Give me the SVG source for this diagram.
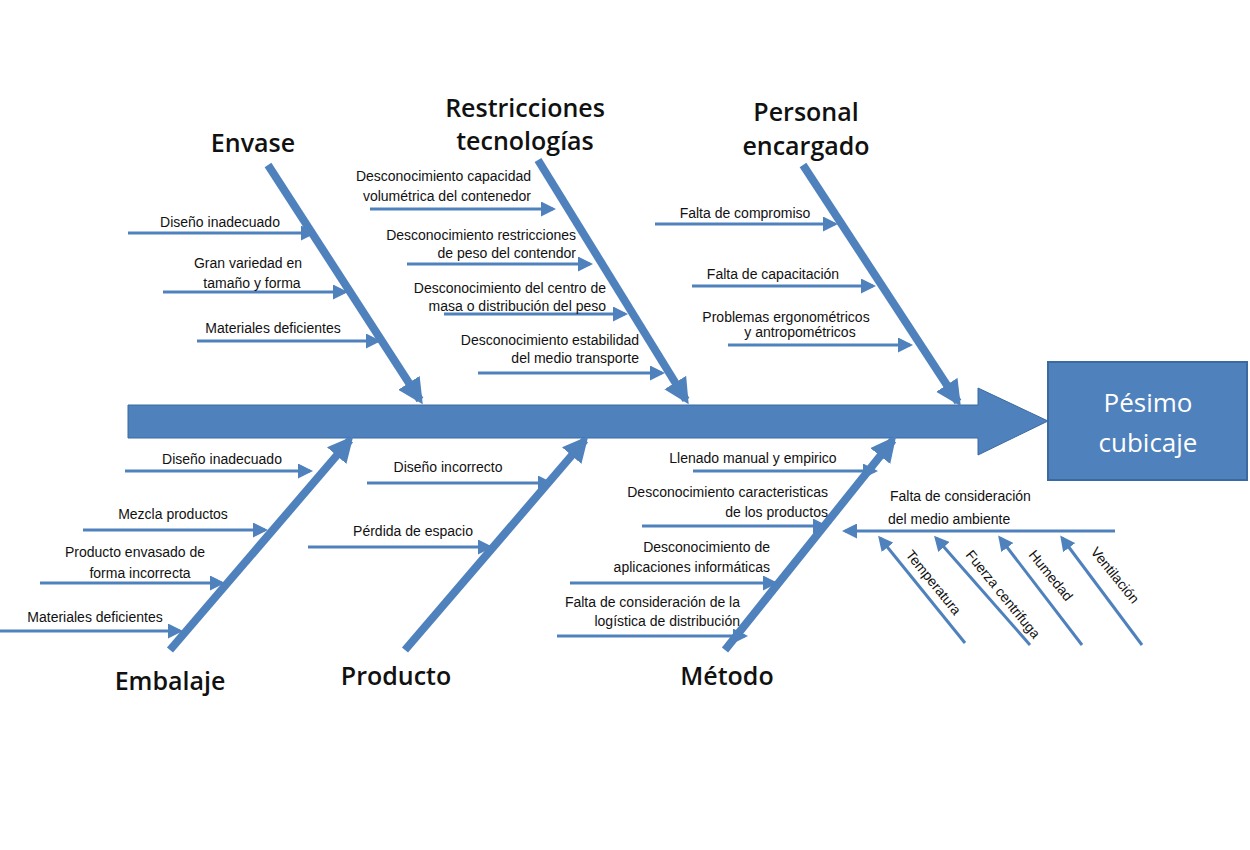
<svg xmlns="http://www.w3.org/2000/svg" width="1250" height="850" viewBox="0 0 1250 850">
<style>
.b{stroke:#4f81bd;stroke-width:8;fill:none}
.s{stroke:#4f81bd;stroke-width:3;fill:none}
.t{font-family:"Liberation Sans Narrow","Liberation Sans",Arial,sans-serif;font-size:14px;fill:#111}
.h{font-family:"Open Sans","Liberation Sans",sans-serif;font-size:25px;font-weight:600;fill:#111;text-anchor:middle}
</style>
<defs>
<marker id="mb" viewBox="0 0 10 10" refX="8" refY="5" markerWidth="3.2" markerHeight="3.2" orient="auto"><path d="M0,0L10,5L0,10z" fill="#4f81bd"/></marker>
<marker id="ms" viewBox="0 0 10 10" refX="8" refY="5" markerWidth="5" markerHeight="5" orient="auto"><path d="M0,0L10,5L0,10z" fill="#4f81bd"/></marker>
</defs>
<rect width="1250" height="850" fill="#fff"/>
<g id="spine"><path d="M128,405H978V388L1048,421L978,455V438H128Z" fill="#4f81bd" stroke="#3b6aa0" stroke-width="1"/></g>
<g id="effect"><rect x="1048" y="362" width="199" height="118" fill="#4f81bd" stroke="#3b6aa0" stroke-width="2"/>
<text x="1148" y="412" class="h" style="fill:#fff;font-weight:400;font-size:26px">Pésimo</text><text x="1148" y="452" class="h" style="fill:#fff;font-weight:400;font-size:26px">cubicaje</text></g>
<g id="connectors">
<line class="b" x1="268" y1="165" x2="420" y2="400" marker-end="url(#mb)"/>
<line class="b" x1="538" y1="160" x2="686" y2="400" marker-end="url(#mb)"/>
<line class="b" x1="803" y1="165" x2="958" y2="402" marker-end="url(#mb)"/>
<line class="b" x1="170" y1="650" x2="350" y2="440" marker-end="url(#mb)"/>
<line class="b" x1="405" y1="650" x2="585" y2="440" marker-end="url(#mb)"/>
<line class="b" x1="725" y1="650" x2="893" y2="440" marker-end="url(#mb)"/>
<line class="s" x1="128" y1="233" x2="313" y2="233" marker-end="url(#ms)"/>
<line class="s" x1="163" y1="292" x2="345" y2="292" marker-end="url(#ms)"/>
<line class="s" x1="197" y1="341" x2="378" y2="341" marker-end="url(#ms)"/>
<line class="s" x1="370" y1="209" x2="553" y2="209" marker-end="url(#ms)"/>
<line class="s" x1="407" y1="264" x2="590" y2="264" marker-end="url(#ms)"/>
<line class="s" x1="444" y1="314" x2="625" y2="314" marker-end="url(#ms)"/>
<line class="s" x1="478" y1="373" x2="662" y2="373" marker-end="url(#ms)"/>
<line class="s" x1="655" y1="224" x2="835" y2="224" marker-end="url(#ms)"/>
<line class="s" x1="692" y1="286" x2="873" y2="286" marker-end="url(#ms)"/>
<line class="s" x1="728" y1="345" x2="910" y2="345" marker-end="url(#ms)"/>
<line class="s" x1="125" y1="471" x2="310" y2="471" marker-end="url(#ms)"/>
<line class="s" x1="83" y1="530" x2="265" y2="530" marker-end="url(#ms)"/>
<line class="s" x1="40" y1="583" x2="222" y2="583" marker-end="url(#ms)"/>
<line class="s" x1="0" y1="631" x2="180" y2="631" marker-end="url(#ms)"/>
<line class="s" x1="367" y1="483" x2="550" y2="483" marker-end="url(#ms)"/>
<line class="s" x1="308" y1="547" x2="490" y2="547" marker-end="url(#ms)"/>
<line class="s" x1="693" y1="471" x2="875" y2="471" marker-end="url(#ms)"/>
<line class="s" x1="642" y1="526" x2="825" y2="526" marker-end="url(#ms)"/>
<line class="s" x1="570" y1="583" x2="775" y2="583" marker-end="url(#ms)"/>
<line class="s" x1="557" y1="636" x2="745" y2="636" marker-end="url(#ms)"/>
<line class="s" x1="1115" y1="531" x2="845" y2="531" marker-end="url(#ms)"/>
<line class="s" x1="965" y1="643" x2="880" y2="538" marker-end="url(#ms)"/>
<line class="s" x1="1030" y1="645" x2="936" y2="538" marker-end="url(#ms)"/>
<line class="s" x1="1082" y1="645" x2="1000" y2="538" marker-end="url(#ms)"/>
<line class="s" x1="1142" y1="645" x2="1062" y2="538" marker-end="url(#ms)"/>
</g>
<g id="envase"><text x="253" y="152" class="h">Envase</text>
<text class="t" x="220" y="227" text-anchor="middle">Diseño inadecuado</text>
<text class="t" x="248" y="268" text-anchor="middle">Gran variedad en</text><text class="t" x="252" y="288" text-anchor="middle">tamaño y forma</text>
<text class="t" x="273" y="333" text-anchor="middle">Materiales deficientes</text></g>
<g id="restricciones"><text x="525" y="117" class="h">Restricciones</text><text x="525" y="150" class="h">tecnologías</text>
<text class="t" x="531" y="181" text-anchor="end">Desconocimiento capacidad</text><text class="t" x="531" y="201" text-anchor="end">volumétrica del contenedor</text>
<text class="t" x="576" y="240" text-anchor="end">Desconocimiento restricciones</text><text class="t" x="576" y="258" text-anchor="end">de peso del contendor</text>
<text class="t" x="606" y="293" text-anchor="end">Desconocimiento del centro de</text><text class="t" x="606" y="311" text-anchor="end">masa o distribución del peso</text>
<text class="t" x="639" y="345" text-anchor="end">Desconocimiento estabilidad</text><text class="t" x="639" y="363" text-anchor="end">del medio transporte</text></g>
<g id="personal"><text x="806" y="121" class="h">Personal</text><text x="806" y="155" class="h">encargado</text>
<text class="t" x="745" y="218" text-anchor="middle">Falta de compromiso</text>
<text class="t" x="773" y="279" text-anchor="middle">Falta de capacitación</text>
<text class="t" x="786" y="322" text-anchor="middle">Problemas ergonométricos</text><text class="t" x="800" y="337" text-anchor="middle">y antropométricos</text></g>
<g id="embalaje"><text x="170" y="690" class="h">Embalaje</text>
<text class="t" x="222" y="464" text-anchor="middle">Diseño inadecuado</text>
<text class="t" x="173" y="519" text-anchor="middle">Mezcla productos</text>
<text class="t" x="135" y="557" text-anchor="middle">Producto envasado de</text><text class="t" x="140" y="578" text-anchor="middle">forma incorrecta</text>
<text class="t" x="95" y="622" text-anchor="middle">Materiales deficientes</text></g>
<g id="producto"><text x="396" y="685" class="h">Producto</text>
<text class="t" x="448" y="472" text-anchor="middle">Diseño incorrecto</text>
<text class="t" x="413" y="536" text-anchor="middle">Pérdida de espacio</text></g>
<g id="metodo"><text x="727" y="685" class="h">Método</text>
<text class="t" x="753" y="463" text-anchor="middle">Llenado manual y empirico</text>
<text class="t" x="828" y="497" text-anchor="end">Desconocimiento caracteristicas</text><text class="t" x="828" y="517" text-anchor="end">de los productos</text>
<text class="t" x="770" y="552" text-anchor="end">Desconocimiento de</text><text class="t" x="770" y="572" text-anchor="end">aplicaciones informáticas</text>
<text class="t" x="740" y="607" text-anchor="end">Falta de consideración de la</text><text class="t" x="740" y="626" text-anchor="end">logística de distribución</text></g>
<g id="ambiente"><text class="t" x="890" y="501">Falta de consideración</text><text class="t" x="888" y="524">del medio ambiente</text>
<text class="t" transform="translate(905,555) rotate(51)">Temperatura</text>
<text class="t" transform="translate(965,555) rotate(51)">Fuerza centrifuga</text>
<text class="t" transform="translate(1028,555) rotate(51)">Humedad</text>
<text class="t" transform="translate(1090,552) rotate(51)">Ventilación</text></g>
</svg>
